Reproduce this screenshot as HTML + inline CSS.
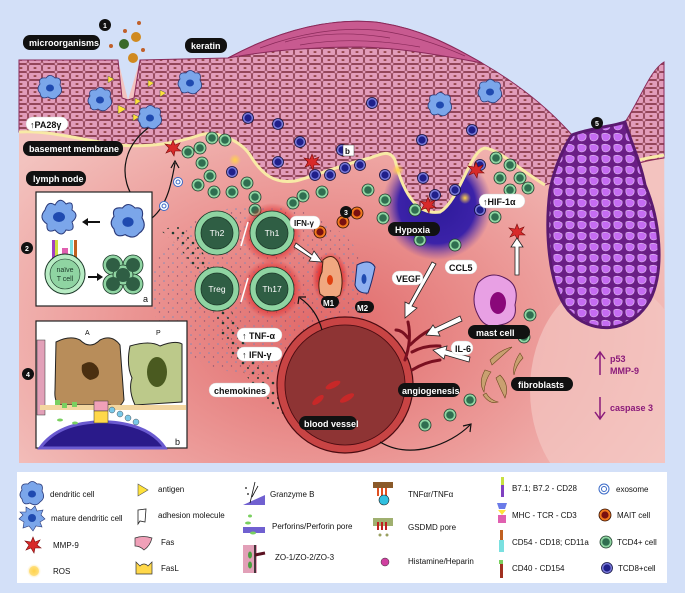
<!DOCTYPE html>
<html><head><meta charset="utf-8"><style>
html,body{margin:0;padding:0;background:#d3e0f8;}
svg{display:block;font-family:"Liberation Sans",sans-serif;}
.lb{font-size:9px;font-weight:bold;}
.lg{font-size:8px;fill:#111;}
</style></head><body>
<svg width="685" height="593" viewBox="0 0 685 593" xmlns="http://www.w3.org/2000/svg">
<defs>
<radialGradient id="derm" cx="0.47" cy="0.7" r="0.6">
<stop offset="0" stop-color="#e06868"/><stop offset="0.55" stop-color="#ec9a98"/><stop offset="1" stop-color="#f3c3bf"/>
</radialGradient>
<radialGradient id="hyp" cx="0.5" cy="0.5" r="0.5">
<stop offset="0" stop-color="#2e1a9a"/><stop offset="0.7" stop-color="#3b22a8"/><stop offset="1" stop-color="#6b3aa8" stop-opacity="0"/>
</radialGradient>
<radialGradient id="glow" cx="0.5" cy="0.5" r="0.5">
<stop offset="0.6" stop-color="#e02020" stop-opacity="0.8"/><stop offset="1" stop-color="#e02020" stop-opacity="0"/>
</radialGradient>
<radialGradient id="ros" cx="0.5" cy="0.5" r="0.5">
<stop offset="0" stop-color="#ffd24a"/><stop offset="1" stop-color="#ffd24a" stop-opacity="0"/>
</radialGradient>
<pattern id="cells" width="14" height="8" patternUnits="userSpaceOnUse">
<rect width="14" height="8" fill="#e29cba"/>
<rect x="0.5" y="0.5" width="13" height="7" rx="2" fill="none" stroke="#7a2a3a" stroke-width="0.7"/>
<ellipse cx="7" cy="4" rx="1.6" ry="0.9" fill="#8a3a3a"/>
</pattern>
<pattern id="tcells" width="12" height="11" patternUnits="userSpaceOnUse">
<rect width="12" height="11" fill="#6a1e86"/>
<path d="M2,2 Q6,0 10,3 Q11,8 6,9 Q1,9 2,2Z" fill="#c56cf2" stroke="#e7c3f5" stroke-width="0.6"/>
</pattern>
<pattern id="dots" width="9" height="9" patternUnits="userSpaceOnUse">
<circle cx="2" cy="2" r="0.8" fill="#6a8ac0"/><circle cx="6.5" cy="6" r="0.7" fill="#7a4a6a"/>
</pattern>
<pattern id="bdots" width="10" height="10" patternUnits="userSpaceOnUse">
<circle cx="3" cy="3" r="1.3" fill="#1f3a2e"/><circle cx="8" cy="8" r="1" fill="#1f3a2e"/>
</pattern>
<clipPath id="pclip"><rect x="19" y="0" width="646" height="463"/></clipPath>
<g id="cd4"><circle r="6" fill="#8fd4a2" stroke="#1d3a2a" stroke-width="0.8"/><circle r="3.8" fill="#2f6e50"/></g>
<g id="cd8"><circle r="5.5" fill="#7a7ad8" stroke="#101040" stroke-width="0.8"/><circle r="3.6" fill="#1f1f8a"/></g>
<g id="mait"><circle r="6" fill="#f0781e" stroke="#2a0a00" stroke-width="0.8"/><circle r="3.6" fill="#7a1010"/></g>
<g id="dc"><path d="M-10,-4 Q-12,-11 -4,-10 Q0,-15 5,-10 Q12,-11 10,-3 Q14,4 8,8 Q4,13 -2,9 Q-9,12 -10,5 Q-14,1 -10,-4Z" fill="#7ba6ea" stroke="#2a3a7a" stroke-width="0.8"/><ellipse cx="0" cy="0" rx="4" ry="3.5" fill="#1f4ab0"/></g>
<g id="star"><path d="M0,-8 L2,-3 L7,-5 L4,0 L8,3 L2,3 L1,8 L-2,3 L-7,5 L-4,0 L-8,-4 L-2,-3Z" fill="#d82a2a" stroke="#7a0a0a" stroke-width="0.6"/></g>
</defs>

<rect x="0" y="0" width="685" height="593" fill="#d3e0f8"/>
<!-- dermis following skin top outline -->
<path d="M19,60 L118,60 L128,100 L140,60 L228,58 C280,30 330,18 375,22 C420,28 450,45 482,63 C520,85 550,110 572,135 C590,128 615,126 625,122 C640,100 650,70 664,62 L665,463 L19,463Z" fill="url(#derm)"/>
<g clip-path="url(#pclip)"><ellipse cx="610" cy="390" rx="80" ry="110" fill="#f3c6c2" opacity="0.7"/></g>
<ellipse cx="260" cy="290" rx="110" ry="85" fill="url(#dots)" opacity="0.8"/>
<path d="M160,230 Q200,260 220,330 Q240,380 290,420 L300,400 Q250,360 235,320 Q215,260 180,225Z" fill="url(#bdots)"/>
<circle cx="437" cy="205" r="55" fill="url(#hyp)"/>
<!-- epidermis -->
<path d="M19,60 L118,60 L122,98 L128,100 L134,98 L140,60 L228,58 C280,30 330,18 375,22 C420,28 450,45 482,63 C520,85 550,110 572,135 L560,180 L545,185 C520,170 500,150 485,148 C470,150 460,200 440,212 C420,215 405,200 395,160 C390,150 383,153 370,158 C340,165 310,178 295,181 C275,184 262,175 250,155 C240,140 215,130 200,135 C180,142 150,148 120,145 C80,140 50,130 19,132Z" fill="url(#cells)" stroke="#8a2a5a" stroke-width="1"/>
<path d="M545,185 C520,170 500,150 485,148 C470,150 460,200 440,212 C420,215 405,200 395,160 C390,150 383,153 370,158 C340,165 310,178 295,181 C275,184 262,175 250,155 C240,140 215,130 200,135 C180,142 150,148 120,145 C80,140 50,130 19,132" fill="none" stroke="#f8eaa6" stroke-width="3"/>
<path d="M625,122 C640,100 650,70 664,62 L664,158 C650,160 640,162 632,166Z" fill="url(#cells)" stroke="#8a2a5a"/>
<path d="M632,162 C645,158 655,157 664,155" stroke="#f8eaa6" stroke-width="3" fill="none"/>
<path d="M228,58 C280,30 330,18 375,22 C420,28 450,45 482,63 C440,55 400,48 360,47 C300,47 260,52 228,58Z" fill="#c85a90" stroke="#8a2a5a"/>
<path d="M260,48 C300,33 340,27 375,30 C410,34 440,45 465,56 M285,42 C320,32 355,32 390,38 M300,45 C340,38 380,40 420,47" stroke="#8a2a5a" stroke-width="0.7" fill="none"/>
<!-- tumor -->
<path d="M572,135 C590,128 615,126 625,122 C630,140 640,160 645,185 C660,220 665,270 650,300 C630,335 590,335 568,310 C548,285 545,230 550,190 C555,165 565,145 572,135Z" fill="url(#tcells)" stroke="#5a1a70" stroke-width="3"/>
<circle cx="235" cy="160" r="6" fill="url(#ros)"/><circle cx="398" cy="170" r="6" fill="url(#ros)"/><circle cx="465" cy="198" r="6" fill="url(#ros)"/>
<use href="#dc" x="50" y="88"/><use href="#dc" x="100" y="100"/><use href="#dc" x="150" y="118"/><use href="#dc" x="190" y="83"/><use href="#dc" x="440" y="105"/><use href="#dc" x="490" y="92"/>
<g fill="#ffe23a" stroke="#555" stroke-width="0.5"><path d="M108,76 l6,3 -6,4z"/><path d="M118,105 l8,4 -8,5z"/><path d="M135,98 l6,3 -6,4z"/><path d="M148,80 l6,3 -6,4z"/><path d="M160,90 l6,3 -6,4z"/><path d="M133,114 l6,3 -6,4z"/></g>
<g><circle cx="124" cy="44" r="5" fill="#3a6a2a"/><circle cx="136" cy="37" r="5" fill="#d08a20"/><circle cx="133" cy="58" r="5" fill="#d08a20"/><circle cx="111" cy="46" r="2" fill="#c0602a"/><circle cx="125" cy="31" r="2" fill="#c0602a"/><circle cx="143" cy="50" r="2" fill="#c0602a"/><circle cx="139" cy="23" r="2" fill="#c0602a"/></g>
<g>
<use href="#cd8" x="248" y="118"/><use href="#cd8" x="278" y="124"/><use href="#cd8" x="300" y="142"/><use href="#cd8" x="232" y="172"/><use href="#cd8" x="278" y="162"/><use href="#cd8" x="342" y="150"/><use href="#cd8" x="372" y="103"/><use href="#cd8" x="422" y="140"/><use href="#cd8" x="472" y="130"/><use href="#cd8" x="423" y="178"/><use href="#cd8" x="435" y="195"/><use href="#cd8" x="455" y="190"/><use href="#cd8" x="480" y="165"/><use href="#cd8" x="385" y="175"/><use href="#cd8" x="345" y="168"/><use href="#cd8" x="330" y="175"/><use href="#cd8" x="360" y="165"/><use href="#cd8" x="273" y="250"/><use href="#cd8" x="480" y="210"/><use href="#cd8" x="315" y="175"/>
<use href="#cd4" x="200" y="148"/><use href="#cd4" x="212" y="138"/><use href="#cd4" x="225" y="140"/><use href="#cd4" x="188" y="152"/><use href="#cd4" x="202" y="163"/><use href="#cd4" x="210" y="176"/><use href="#cd4" x="198" y="185"/><use href="#cd4" x="214" y="192"/><use href="#cd4" x="232" y="192"/><use href="#cd4" x="247" y="183"/><use href="#cd4" x="255" y="197"/><use href="#cd4" x="255" y="210"/><use href="#cd4" x="293" y="203"/><use href="#cd4" x="303" y="196"/><use href="#cd4" x="322" y="192"/><use href="#cd4" x="368" y="190"/><use href="#cd4" x="385" y="200"/><use href="#cd4" x="383" y="218"/><use href="#cd4" x="415" y="210"/><use href="#cd4" x="420" y="240"/><use href="#cd4" x="455" y="245"/><use href="#cd4" x="496" y="158"/><use href="#cd4" x="510" y="165"/><use href="#cd4" x="500" y="178"/><use href="#cd4" x="520" y="178"/><use href="#cd4" x="510" y="190"/><use href="#cd4" x="528" y="188"/><use href="#cd4" x="495" y="217"/><use href="#cd4" x="530" y="315"/><use href="#cd4" x="524" y="337"/><use href="#cd4" x="318" y="345"/><use href="#cd4" x="337" y="343"/><use href="#cd4" x="359" y="343"/><use href="#cd4" x="370" y="410"/><use href="#cd4" x="398" y="418"/><use href="#cd4" x="425" y="425"/><use href="#cd4" x="450" y="415"/><use href="#cd4" x="470" y="400"/><use href="#cd4" x="372" y="433"/>
<use href="#mait" x="320" y="232"/><use href="#mait" x="343" y="222"/><use href="#mait" x="357" y="213"/>
</g>
<use href="#star" x="173" y="148"/><use href="#star" x="312" y="162"/><use href="#star" x="476" y="170"/><use href="#star" x="428" y="205"/><use href="#star" x="517" y="232"/>
<circle cx="272" cy="233" r="30" fill="url(#glow)"/><circle cx="272" cy="289" r="30" fill="url(#glow)"/>
<g stroke="#1d3a2a" stroke-width="0.8">
<circle cx="217" cy="233" r="22" fill="#8fd4a2"/><circle cx="217" cy="233" r="16" fill="#2f5e44"/>
<circle cx="272" cy="233" r="22" fill="#8fd4a2"/><circle cx="272" cy="233" r="16" fill="#2f5e44"/>
<circle cx="217" cy="289" r="22" fill="#8fd4a2"/><circle cx="217" cy="289" r="16" fill="#2f5e44"/>
<circle cx="272" cy="289" r="22" fill="#8fd4a2"/><circle cx="272" cy="289" r="16" fill="#2f5e44"/>
</g>
<path d="M248,222 L241,246 M248,278 L241,302" stroke="#fff" stroke-width="1.5"/>
<g fill="#fff" font-size="8.5" text-anchor="middle"><text x="217" y="236">Th2</text><text x="272" y="236">Th1</text><text x="217" y="292">Treg</text><text x="272" y="292">Th17</text></g>
<ellipse cx="330" cy="278" rx="18" ry="26" fill="url(#glow)"/>
<path d="M323,260 Q332,252 338,262 Q345,280 340,295 Q330,302 320,294 Q317,282 322,272Z" fill="#f0a880" stroke="#4a2010"/>
<ellipse cx="330" cy="280" rx="3" ry="5" fill="#e04010"/>
<path d="M357,265 Q370,258 375,267 Q372,282 368,293 Q358,294 355,285Z" fill="#8fb0f0" stroke="#1a2a6a"/>
<ellipse cx="364" cy="279" rx="2.5" ry="5" fill="#1f4ab0"/>
<circle cx="345" cy="385" r="64" fill="#8e3434" stroke="#c84444" stroke-width="7"/>
<circle cx="345" cy="385" r="68" fill="none" stroke="#4a0a10" stroke-width="1.2"/>
<circle cx="345" cy="385" r="60" fill="none" stroke="#4a0a10" stroke-width="0.8"/>
<ellipse cx="333" cy="385" rx="8" ry="3" fill="#c82828" transform="rotate(-25 333 385)"/><ellipse cx="347" cy="398" rx="8" ry="3" fill="#c82828" transform="rotate(-30 347 398)"/><ellipse cx="318" cy="400" rx="7" ry="3" fill="#c82828" transform="rotate(-40 318 400)"/>
<g stroke="#7a1020" stroke-width="3" fill="none" stroke-linecap="round"><path d="M405,360 Q412,340 408,322 M410,345 Q420,335 430,330 M412,352 Q425,345 440,346 M408,338 Q402,330 396,330 M412,370 Q425,362 440,360"/></g>
<path d="M478,283 Q490,270 505,278 Q520,285 515,305 Q518,322 500,325 Q485,330 478,315 Q470,300 478,283Z" fill="#e8a0e4" stroke="#5a1a5a"/>
<ellipse cx="498" cy="303" rx="8" ry="11" fill="#8a087a"/>
<g fill="#c9a070" stroke="#6a4a20" stroke-width="0.6"><path d="M490,360 Q500,350 512,347 Q502,356 492,365Z"/><path d="M485,370 Q478,382 484,392 Q485,380 491,372Z"/><path d="M500,375 Q510,385 505,398 Q500,388 496,378Z"/><path d="M520,353 Q512,365 514,375 Q516,365 523,358Z"/><path d="M483,395 Q490,405 498,402 Q490,400 486,393Z"/></g>
<g fill="#fff" stroke="#222" stroke-width="0.8">
<path d="M296,243 L312,255 L314,251 L322,262 L309,261 L311,258 L294,247Z"/>
<path d="M432,262 L436,264 L412,306 L417,308 L405,318 L405,302 L409,304Z"/>
<path d="M460,316 L462,321 L438,332 L440,336 L426,335 L433,325 L435,328Z"/>
<path d="M470,357 L469,362 L445,355 L444,359 L433,350 L447,346 L446,350Z"/>
<path d="M515,275 L519,275 L519,247 L523,247 L517,238 L511,247 L515,247Z"/>
</g>
<g stroke="#111" stroke-width="1.2" fill="none">
<path d="M148,128 C120,150 120,180 135,200"/><path d="M131,195 L135,201 L139,195"/>
<path d="M152,218 C168,205 172,180 175,163"/><path d="M171,168 L175,161 L179,168"/>
<path d="M322,330 C318,315 310,305 300,298"/><path d="M298,304 L299,297 L306,297"/>
<path d="M380,442 C410,460 450,445 470,425"/><path d="M463,426 L471,424 L470,432"/>
</g>
<g fill="#fff" stroke="#3a6ac8"><circle cx="178" cy="182" r="4.5"/><circle cx="178" cy="182" r="2"/><circle cx="164" cy="206" r="4.5"/><circle cx="164" cy="206" r="2"/></g>
<!-- panel a -->
<rect x="36" y="192" width="116" height="114" fill="#fff" stroke="#222" stroke-width="1.2"/>
<path d="M45,210 Q48,200 55,205 Q60,196 66,204 Q74,200 72,210 Q80,215 72,222 Q76,232 66,230 Q62,238 55,230 Q46,234 47,224 Q38,218 45,210Z" fill="#7ba6ea" stroke="#2a3a7a"/><ellipse cx="59" cy="217" rx="6" ry="5" fill="#1f4ab0"/>
<use href="#dc" x="0" y="0" transform="translate(128 222) scale(1.4)"/>
<path d="M100,222 L86,222" stroke="#111" stroke-width="2"/><path d="M88,218 L82,222 L88,226Z" fill="#111"/>
<g><rect x="52" y="240" width="3" height="20" fill="#a040c0"/><rect x="55" y="240" width="3" height="20" fill="#d0e040"/><rect x="62" y="248" width="6" height="8" fill="#e060b0"/><rect x="70" y="240" width="3" height="20" fill="#7ae0e0"/><rect x="74" y="240" width="3" height="20" fill="#c06020"/></g>
<circle cx="65" cy="274" r="20" fill="#b8ecc4" stroke="#1d3a2a"/><circle cx="65" cy="274" r="15" fill="#8fd4a2" stroke="#1d3a2a" stroke-width="0.6"/>
<text x="65" y="272" font-size="7" text-anchor="middle" fill="#1d3a2a">naïve</text><text x="65" y="281" font-size="7" text-anchor="middle" fill="#1d3a2a">T cell</text>
<path d="M88,277 L98,277" stroke="#111" stroke-width="2"/><path d="M97,273 L103,277 L97,281Z" fill="#111"/>
<g stroke="#1d3a2a" stroke-width="0.8"><circle cx="113" cy="265" r="10" fill="#8fd4a2"/><circle cx="133" cy="265" r="10" fill="#8fd4a2"/><circle cx="113" cy="284" r="10" fill="#8fd4a2"/><circle cx="133" cy="284" r="10" fill="#8fd4a2"/><circle cx="123" cy="275" r="10" fill="#8fd4a2"/></g>
<g fill="#2f5e44"><circle cx="113" cy="265" r="7"/><circle cx="133" cy="265" r="7"/><circle cx="113" cy="284" r="7"/><circle cx="133" cy="284" r="7"/><circle cx="123" cy="275" r="7"/></g>
<text x="143" y="302" font-size="9" fill="#111">a</text>
<!-- panel b -->
<rect x="36" y="321" width="151" height="127" fill="#fff" stroke="#222" stroke-width="1.2"/>
<rect x="37" y="340" width="8" height="75" fill="#e2a0b8" stroke="#333" stroke-width="0.5"/>
<path d="M56,342 Q70,335 80,340 Q90,350 100,340 Q112,334 120,345 L124,400 Q120,410 110,405 L60,405 Q54,402 55,390Z" fill="#b88d5a" stroke="#222"/>
<path d="M82,365 Q92,358 98,368 Q102,378 90,380 Q80,376 82,365Z" fill="#4a2f10"/>
<path d="M130,346 Q150,340 160,346 Q175,340 182,344 L182,402 L135,405 Q128,390 132,378 Q126,365 130,346Z" fill="#bcc98a" stroke="#222"/>
<ellipse cx="157" cy="372" rx="10" ry="15" fill="#4a5a20"/>
<rect x="40" y="405" width="146" height="5" fill="#f3d6a0"/>
<path d="M40,448 Q60,420 110,422 Q150,425 165,448Z" fill="#2a1a8a" stroke="#6a5ad0" stroke-width="3"/>
<rect x="94" y="401" width="14" height="10" fill="#f0a0b8" stroke="#333" stroke-width="0.5"/><rect x="94" y="411" width="14" height="12" fill="#ffd84a" stroke="#333" stroke-width="0.5"/>
<g fill="#7ac8e8" stroke="#333" stroke-width="0.4"><circle cx="112" cy="410" r="3"/><circle cx="120" cy="414" r="3"/><circle cx="128" cy="418" r="3"/><circle cx="136" cy="422" r="3"/></g>
<g fill="#7ad060"><rect x="55" y="400" width="5" height="5"/><rect x="62" y="403" width="5" height="5"/><rect x="72" y="402" width="5" height="5"/><ellipse cx="60" cy="420" rx="3" ry="1.5"/><ellipse cx="75" cy="423" rx="3" ry="1.5"/></g>
<text x="85" y="335" font-size="7" fill="#111">A</text><text x="156" y="335" font-size="7" fill="#111">P</text>
<text x="175" y="445" font-size="9" fill="#111">b</text>
<g fill="#111"><circle cx="105" cy="25" r="6"/><circle cx="27" cy="248" r="6"/><circle cx="346" cy="212" r="6"/><circle cx="28" cy="374" r="6"/><circle cx="597" cy="123" r="6"/></g>
<g fill="#fff" font-size="7" font-weight="bold" text-anchor="middle"><text x="105" y="28">1</text><text x="27" y="251">2</text><text x="346" y="215">3</text><text x="28" y="377">4</text><text x="597" y="126">5</text></g>
<g fill="#111">
<rect x="23" y="35" width="77" height="15" rx="7"/><rect x="185" y="38" width="42" height="15" rx="7"/><rect x="23" y="141" width="100" height="15" rx="7"/><rect x="26" y="171" width="60" height="15" rx="7"/>
<rect x="388" y="222" width="52" height="14" rx="7"/><rect x="321" y="296" width="18" height="12" rx="6"/><rect x="355" y="301" width="19" height="12" rx="6"/>
<rect x="468" y="325" width="62" height="14" rx="7"/><rect x="511" y="377" width="62" height="14" rx="7"/><rect x="398" y="383" width="62" height="14" rx="7"/><rect x="299" y="416" width="58" height="14" rx="7"/>
</g>
<g fill="#fff" class="lb">
<text x="29" y="46">microorganisms</text><text x="191" y="49">keratin</text><text x="29" y="152">basement membrane</text><text x="33" y="182">lymph node</text>
<text x="395" y="233">Hypoxia</text><text x="323" y="306" font-size="8">M1</text><text x="357" y="311" font-size="8">M2</text>
<text x="476" y="336">mast cell</text><text x="518" y="388">fibroblasts</text><text x="402" y="394">angiogenesis</text><text x="304" y="427">blood vessel</text>
</g>
<g fill="#fff" stroke="#ccc" stroke-width="0.4">
<rect x="26" y="117" width="42" height="14" rx="7"/><rect x="290" y="216" width="30" height="13" rx="6"/><rect x="479" y="194" width="46" height="14" rx="7"/>
<rect x="445" y="260" width="32" height="14" rx="7"/><rect x="392" y="271" width="31" height="14" rx="7"/><rect x="451" y="341" width="22" height="14" rx="7"/>
<rect x="237" y="328" width="45" height="14" rx="7"/><rect x="237" y="347" width="45" height="14" rx="7"/><rect x="209" y="383" width="61" height="14" rx="7"/>
<rect x="343" y="145" width="11" height="11" fill="#fff" stroke="#222"/>
</g>
<g fill="#111" class="lb">
<text x="30" y="128">↑PA28γ</text><text x="294" y="226" font-size="8">IFN-γ</text><text x="483" y="205">↑HIF-1α</text>
<text x="449" y="271">CCL5</text><text x="396" y="282">VEGF</text><text x="455" y="352">IL-6</text>
<text x="242" y="339">↑ TNF-α</text><text x="242" y="358">↑ IFN-γ</text><text x="214" y="394">chemokines</text>
<text x="345" y="154" font-size="8">b</text>
</g>
<g stroke="#8a1a7a" stroke-width="1.5" fill="none"><path d="M600,375 L600,353 M595,359 L600,352 L605,359"/><path d="M600,397 L600,418 M595,412 L600,419 L605,412"/></g>
<g fill="#8a1a7a" class="lb"><text x="610" y="362">p53</text><text x="610" y="374">MMP-9</text><text x="610" y="411">caspase 3</text></g>

<rect x="17" y="472" width="650" height="111" fill="#fff"/>
<use href="#dc" x="32" y="494"/>
<g transform="translate(32 518)"><path d="M-9,-3 L-12,-6 L-6,-6 L-6,-11 L-1,-8 L3,-12 L5,-7 L11,-8 L9,-3 L13,1 L8,4 L10,9 L4,8 L1,13 L-3,8 L-9,10 L-8,4 L-13,1Z" fill="#7ba6ea" stroke="#2a3a7a" stroke-width="0.6"/><circle r="4" fill="#1f4ab0"/></g>
<use href="#star" x="33" y="545"/>
<circle cx="34" cy="571" r="7" fill="url(#ros)"/><circle cx="34" cy="571" r="5" fill="#ffd24a" opacity="0.6"/>
<path d="M138,484 L148,490 L138,496Z" fill="#ffe23a" stroke="#555" stroke-width="0.6"/>
<path d="M138,510 L146,509 L145,522 L140,521 L138,524Z" fill="#fff" stroke="#222" stroke-width="0.8"/>
<path d="M135,538 Q143,535 152,538 Q150,546 144,550 Q140,546 135,546Z" fill="#f0a0b8" stroke="#333" stroke-width="0.7"/>
<path d="M136,562 L140,566 Q144,562 148,566 L152,562 L152,574 L136,574Z" fill="#ffd84a" stroke="#333" stroke-width="0.7"/>
<g><path d="M243,505 L265,495 L265,505Z" fill="#7060d0"/><path d="M250,503 L255,482 M252,497 L258,486" stroke="#111" stroke-width="0.8"/><circle cx="246" cy="488" r="0.9" fill="#111"/><circle cx="248" cy="494" r="0.9" fill="#111"/></g>
<g><rect x="243" y="527" width="22" height="6" fill="#7060d0"/><ellipse cx="248" cy="523" rx="3" ry="1.5" fill="#7ad060"/><ellipse cx="253" cy="533" rx="3" ry="1.5" fill="#7ad060"/><ellipse cx="250" cy="516" rx="2" ry="1.5" fill="#7ad060"/></g>
<g><rect x="243" y="545" width="14" height="28" fill="#e2a0b8"/><path d="M255,545 L255,573" stroke="#111" stroke-width="1.5"/><path d="M255,555 L265,553" stroke="#5a1020" stroke-width="3"/><ellipse cx="250" cy="555" rx="2" ry="3.5" fill="#4aa040"/><ellipse cx="250" cy="565" rx="2" ry="3.5" fill="#4aa040"/></g>
<g><rect x="373" y="482" width="20" height="6" fill="#8a5a2a"/><path d="M378,488 L378,496 M382,488 L382,496 M386,488 L386,496" stroke="#e05020" stroke-width="2"/><circle cx="384" cy="500" r="5" fill="#30c0e0" stroke="#222" stroke-width="0.6"/></g>
<g><rect x="373" y="518" width="20" height="8" fill="#a0b070"/><path d="M378,522 L378,530 M382,522 L382,530 M386,522 L386,530" stroke="#c02020" stroke-width="2"/><circle cx="380" cy="535" r="1.5" fill="#9aa060"/><circle cx="387" cy="535" r="1.5" fill="#9aa060"/></g>
<circle cx="385" cy="562" r="4" fill="#d040a0" stroke="#333" stroke-width="0.5"/>
<g><rect x="501" y="477" width="3" height="8" fill="#c8e040"/><rect x="501" y="485" width="3" height="12" fill="#8040c0"/>
<path d="M497,503 L507,503 L505,509 L499,509Z" fill="#6a7ae8"/><path d="M498,510 L506,510 L502,515Z" fill="#ffe23a"/><rect x="498" y="515" width="8" height="8" fill="#e060b0"/>
<rect x="500" y="530" width="3" height="10" fill="#c06020"/><rect x="499" y="540" width="5" height="12" fill="#7ae0e0"/>
<rect x="499" y="560" width="4" height="4" fill="#7ad060"/><rect x="500" y="564" width="3" height="14" fill="#a03020"/></g>
<g fill="none" stroke="#3a6ac8"><circle cx="604" cy="489" r="5"/><circle cx="604" cy="489" r="2.5"/></g>
<use href="#mait" x="605" y="515"/><use href="#cd4" x="606" y="542"/><use href="#cd8" x="607" y="568"/>
<g class="lg">
<text x="50" y="497">dendritic cell</text><text x="51" y="521">mature dendritic cell</text><text x="53" y="548">MMP-9</text><text x="53" y="574">ROS</text>
<text x="158" y="492">antigen</text><text x="158" y="518">adhesion molecule</text><text x="161" y="545">Fas</text><text x="161" y="571">FasL</text>
<text x="270" y="497">Granzyme B</text><text x="272" y="529">Perforins/Perforin pore</text><text x="275" y="560">ZO-1/ZO-2/ZO-3</text>
<text x="408" y="497">TNFαr/TNFα</text><text x="408" y="530">GSDMD pore</text><text x="408" y="564">Histamine/Heparin</text>
<text x="512" y="491">B7.1; B7.2 - CD28</text><text x="512" y="518">MHC - TCR - CD3</text><text x="512" y="545">CD54 - CD18; CD11a</text><text x="512" y="571">CD40 - CD154</text>
<text x="616" y="492">exosome</text><text x="617" y="518">MAIT cell</text><text x="617" y="545">TCD4+ cell</text><text x="618" y="571">TCD8+cell</text>
</g>
</svg>
</body></html>
